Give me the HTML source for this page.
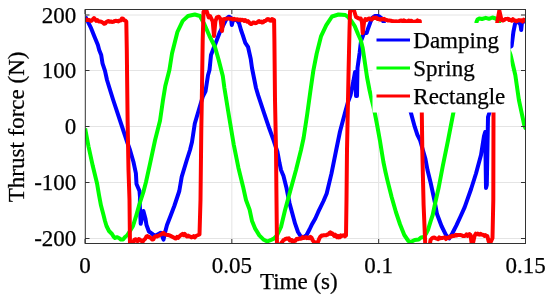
<!DOCTYPE html>
<html><head><meta charset="utf-8"><style>
html,body{margin:0;padding:0;background:#fff;}
svg{display:block;}
</style></head><body>
<svg width="550" height="299" viewBox="0 0 550 299">
<rect width="550" height="299" fill="#fff"/>
<g stroke="#e4e4e4" stroke-width="1"><line x1="85.0" y1="15.00" x2="525.5" y2="15.00"/><line x1="85.0" y1="70.50" x2="525.5" y2="70.50"/><line x1="85.0" y1="126.50" x2="525.5" y2="126.50"/><line x1="85.0" y1="182.50" x2="525.5" y2="182.50"/><line x1="85.0" y1="238.50" x2="525.5" y2="238.50"/><line x1="231.83" y1="9.5" x2="231.83" y2="243.5"/><line x1="378.67" y1="9.5" x2="378.67" y2="243.5"/></g><defs><clipPath id="ax"><rect x="85" y="9.5" width="440.5" height="234"/></clipPath></defs><g clip-path="url(#ax)"><polyline points="85.3,16.7 87.9,21.7 91.2,28.4 94.5,36.8 97.9,45.1 99.2,50 101.2,55 102.5,63.4 105,70.9 107,80 109.3,87.5 113.2,100 122,126.5 127.5,143 130,150 133.4,161.7 135.9,173.4 136.5,184 139.5,191 140,197 139.8,205 140.2,213 140.7,223.7 142,218 143.4,211 145.4,218.4 146.5,225 148.9,231.5 151.6,233.3 154.4,236 158,234.2 160.7,232.8 162.5,237 163.5,239.6 164.5,235 165.3,231.5 167,225 170.5,216 174.3,206 179.3,191 181.7,176.8 186.8,160 190,150 192,142 194.8,123.5 198.8,110 202.8,96.7 205.5,91.4 208,75.3 209.5,70 211,55 220,31.8 226.8,18.4 229,16.7 231,18 231.8,25 233,20 236.8,20 239,23 241,30 242.7,34.8 245.3,42.8 248,46.8 250.7,58.8 252,68 254,78 256,88 258.2,95.4 264,112.8 269.4,128.8 273.5,140 277.5,152 279.5,163 281,170 283.5,176 286.5,188 289.5,203 292.2,213 295.1,223.7 298,232 300.8,236.5 303.7,237.2 306.6,235 309.5,229.5 312.3,223.7 315.2,218.7 318.1,212.2 323.5,201 326.7,193.5 331.5,173.4 336.2,150 340,131.5 345,112.8 348,102 350.5,95.3 353.5,80.5 355,72 356,96 357,96 357.5,68 359.6,53.1 361,41 364,33 366.7,33 368,28.7 370,23.4 372,18 374.7,16 378.7,16 381.4,18 383.4,21.4 386,30 390,50 395,75 400,90 405,100 410.7,112 414.7,126.7 417.4,134.8 420,140 425.4,158.8 427.5,170 430.7,183 434.8,202 437,214 441.5,226 445.9,234.9 449.2,238.5 452.5,233 456.4,225.4 460.5,216.5 464.6,207.4 471.1,189 476,173.5 481,155 484,136 485.2,132 486,188 486.8,185 488,117 489.6,112 495,80 505,50 511.6,46 513.4,32 515,24 516.5,21.5 519.5,23 520.5,25 521.2,30 522,22 524,21.5 526,21" fill="none" stroke="#0000ff" stroke-width="4.0" stroke-linejoin="round" stroke-linecap="butt"/><polyline points="85.1,128.5 88.5,146.3 92.8,166.1 97,183.2 99,195 101,205.6 103.5,215 105,221 106.5,226 109,231 112,234 113.5,236.5 115,238 117,237.2 119,238 121,239.6 123,239.6 125,237 127,235.5 130,231 133,226 135.9,216.7 139.2,205 143.4,192 146,182 150.1,163.4 155.1,140 160,120.8 163,100 165.3,86 169.4,70 172,53.5 177.4,32 182.7,20.9 188,16 194.8,14.5 200,16 204.5,24.5 209.5,36 215,47 218.7,60 222.8,76 224.4,88 229,116.2 233.7,144.3 238.4,167.7 243,186.4 246,200 249.6,209.6 252,220.9 255.3,228.9 259.3,235.4 263.3,239.4 267.3,241.5 270.5,240.2 273.8,238.6 277,235.4 281,227 285,210.3 290.5,190 296,170 301,150 303.6,138 307.2,114.3 310.2,92.6 313.3,70.9 316.7,53.5 321.1,36.1 326.3,25.2 332,16.5 338.5,14.5 345.3,15 348,17 351.4,21 354.7,26 358,34 360.7,40 362.7,48 364.5,60 367,77 369.5,90 371.5,99 373.5,107 374.8,113 377.3,126 380,141 383.4,162 385.5,172 387.5,180.6 391.7,197.3 395.9,212 400.1,224.5 404.3,235 408.4,241 410.7,242 414.7,240 418.7,239.5 421,237.5 424,237 426,233.8 428.2,229.3 430.5,221.6 432.7,215 434.8,204.8 438.8,187 442.8,166 448.1,140 453.5,112 460,80 467,45 475.5,32 476.5,22 477.5,19.5 479.3,18.5 482,19 485.8,17.8 489,18.8 492.4,17.5 495.6,18.5 498,20 505,40 510.6,55 515.3,75 518.9,100 524.4,125.8 526,129" fill="none" stroke="#00ff00" stroke-width="4.0" stroke-linejoin="round" stroke-linecap="butt"/><polyline points="85,19.2 86,19.93 87,19.7 88.25,20.01 89.5,20 90.75,21.02 92,20.4 93,19.09 94,18 95.1,19.32 96.2,20.9 97.45,20.16 98.7,21.4 99.95,21.42 101.2,21.7 102.05,22.22 102.9,22.6 104.15,23.84 105.4,23.4 106.25,22.05 107.1,21.7 108.35,20.92 109.6,21.7 110.85,21.44 112.1,22 113.35,21.88 114.6,20.9 115.85,20.82 117.1,20.9 118.35,21.4 119.6,20.4 120.73,20.4 121.87,18.42 123,18.7 124.05,20.26 125.1,20.4 126.3,21.7 126.8,50 127.6,120 128.5,170 129.5,200 130,247 131.5,247 133,243 134.4,239.6 135.7,239.29 137,241 137.93,241.01 138.87,239.12 139.8,239.6 141.15,240.67 142.5,242 143.43,240.46 144.37,239.52 145.3,238.7 146.4,236.56 147.5,236 148.65,237.26 149.8,237 151.15,238.47 152.5,239.6 153.45,239.24 154.4,237 155.7,236.31 157,236.5 157.93,235.87 158.87,235.7 159.8,235 161.15,234.45 162.5,233.3 163.45,232.86 164.4,234.2 165.7,234.47 167,235 168.23,234.98 169.47,235.37 170.7,236 171.63,236.31 172.57,237 173.5,237.3 174.75,238.22 176,238.5 177.1,236.83 178.2,237.82 179.3,236.5 180.4,235.54 181.5,234.58 182.6,233.8 183.7,235.17 184.8,233.93 185.9,235.4 187,236.4 188.1,235.49 189.2,236.5 190.3,236.47 191.4,237.41 192.5,237.1 193.6,236.16 194.7,237.44 195.8,236 199.5,234.5 200.5,200 201.3,130 201.8,100 202.7,40 203.5,12 205,9.8 206.5,10.5 208.7,17.4 210,16 212.7,21.4 214,36 215.4,21.4 216.8,17.4 218.8,16.7 220.5,19 222,31 223.4,19.2 228.4,18.4 229.55,18.78 230.7,18.7 231.85,18.77 233,19.5 234,18.71 235,19.45 236,19.5 237.33,19.3 238.67,19.89 240,19.6 241,20.41 242,19.79 243,19.9 244,20.91 245,20 246,20.6 247,21.72 248,21.08 249,22.1 250,23.42 251,24.1 252,23.62 253,22.6 254,22.54 255,23.18 256,23.1 257.03,22.58 258.07,21.62 259.1,21.1 260.1,22.02 261.1,21.58 262.1,22.6 263.1,22.4 264.1,20.92 265.1,21.1 266.1,20.41 267.1,19.15 268.1,19.1 269.1,19.4 270.1,20.6 271.1,20.76 272.1,19.1 274.1,20.1 274.4,40 275,100 276,150 276.5,200 277,247 280.5,247 281,243.4 283.4,240.2 284.47,239.74 285.53,238.97 286.6,238.6 287.9,238.8 288.87,238.24 289.83,240.54 290.8,240.3 291.73,239.96 292.67,242.11 293.6,241.7 294.57,240.46 295.53,240.62 296.5,239 297.47,238.84 298.43,239.14 299.4,238.5 300.47,238.78 301.55,238.61 302.62,237.1 303.7,238 304.77,237.85 305.85,237.15 306.93,238.17 308,237.5 309.2,238.1 310.4,236.81 311.6,237.8 312.7,240.33 313.8,241.7 314.85,242.3 315.9,242.4 317,242.37 318.1,241.7 319.2,238.69 320.3,236.7 321.47,235.57 322.63,235.63 323.8,235.2 325,235.28 326.2,235.25 327.4,234.5 328.37,234.43 329.33,233.11 330.3,232.3 331.27,233.99 332.23,233.35 333.2,234.5 334.17,235.98 335.13,234.59 336.1,235.9 337.07,237.19 338.03,235.83 339,237.4 339.93,237.22 340.87,235.44 341.8,235.9 342.9,235.36 344,235.2 345,236.35 346,235.5 346.5,200 347,150 348.6,70 349.5,30 350,12 350.5,9.7 354,10.5 356,17 358.7,18.4 360.7,18.4 362,22.4 362.7,33 364,22.4 365.4,19 366.7,20 368.05,18.9 369.4,18.4 370.7,19.4 372.03,19.43 373.37,17.53 374.7,18 376.03,17.5 377.37,19.08 378.7,18.7 380.07,19.82 381.43,19 382.8,19.4 384.13,18.85 385.47,19.73 386.8,20 388.13,20.6 389.47,20.58 390.8,20.7 392.13,21 393.47,21.17 394.8,21.4 396.15,21.32 397.5,22 398.75,21.46 400,20.7 401.25,20.57 402.5,21.28 403.75,20.3 405,21.5 406.25,21.19 407.5,22.1 408.75,20.49 410,21 411.25,20.79 412.5,21.56 413.75,21.97 415,21.5 416.2,21.44 417.4,20.44 418.6,22.1 419.8,21 421.8,113 422.3,150 423.6,205 425.2,243 426,247 429.5,247 430.5,240 431.6,238.7 432.95,237.77 434.3,237.6 435.65,238.3 437,238.7 438.13,239.23 439.27,237.39 440.4,238.2 441.5,238.01 442.6,237.92 443.7,237.6 444.8,237.36 445.9,239.02 447,238.2 448.1,237.47 449.2,237.73 450.3,236.5 451.4,236.51 452.5,235.74 453.6,236 454.73,235.79 455.87,234.75 457,235.4 458.1,234.98 459.2,235.05 460.3,234.9 461.63,235.34 462.97,236.1 464.3,235.9 465.38,235.74 466.45,234.35 467.53,235.78 468.6,234.5 469.55,234.05 470.5,235 471.5,242.5 473,243 474.5,236 475.8,233.7 476.77,234.29 477.73,233.64 478.7,234.5 479.63,234.63 480.57,233.74 481.5,234.5 482.47,234.66 483.43,234.91 484.4,235.9 485.37,235.14 486.33,235.84 487.3,235.9 488.7,241.6 489.8,241.8 490.9,241.6 492.5,238 493.3,200 493.5,113 496,40 497.3,22 499.3,10.5 501.5,20 503,20.5 504.25,19.88 505.5,19 506.73,18.87 507.95,18.73 509.17,20.04 510.4,19.7 511.62,20.68 512.85,19.13 514.07,20.49 515.3,20.5 516.52,21.24 517.75,20.56 518.98,20.04 520.2,20.5 521.36,20.22 522.52,21.52 523.68,19.71 524.84,20.52 526,20.5" fill="none" stroke="#ff0000" stroke-width="4.0" stroke-linejoin="round" stroke-linecap="butt"/></g><g stroke="#333" stroke-width="1"><rect x="85.3" y="9.5" width="440.2" height="234.0" fill="none"/><line x1="85.0" y1="15.00" x2="89.5" y2="15.00"/><line x1="525.5" y1="15.00" x2="521.0" y2="15.00"/><line x1="85.0" y1="70.50" x2="89.5" y2="70.50"/><line x1="525.5" y1="70.50" x2="521.0" y2="70.50"/><line x1="85.0" y1="126.50" x2="89.5" y2="126.50"/><line x1="525.5" y1="126.50" x2="521.0" y2="126.50"/><line x1="85.0" y1="182.50" x2="89.5" y2="182.50"/><line x1="525.5" y1="182.50" x2="521.0" y2="182.50"/><line x1="85.0" y1="238.50" x2="89.5" y2="238.50"/><line x1="525.5" y1="238.50" x2="521.0" y2="238.50"/><line x1="85.00" y1="243.5" x2="85.00" y2="239.0"/><line x1="85.00" y1="9.5" x2="85.00" y2="14.0"/><line x1="231.83" y1="243.5" x2="231.83" y2="239.0"/><line x1="231.83" y1="9.5" x2="231.83" y2="14.0"/><line x1="378.67" y1="243.5" x2="378.67" y2="239.0"/><line x1="378.67" y1="9.5" x2="378.67" y2="14.0"/><line x1="525.50" y1="243.5" x2="525.50" y2="239.0"/><line x1="525.50" y1="9.5" x2="525.50" y2="14.0"/></g><g font-family="Liberation Serif, Times New Roman, serif" font-size="23" fill="#000" stroke="#000" stroke-width="0.25"><text x="76.3" y="22.70" text-anchor="end">200</text><text x="76.3" y="78.20" text-anchor="end">100</text><text x="76.3" y="134.20" text-anchor="end">0</text><text x="76.3" y="190.20" text-anchor="end">-100</text><text x="76.3" y="246.20" text-anchor="end">-200</text><text x="85.00" y="273.0" text-anchor="middle">0</text><text x="231.83" y="273.0" text-anchor="middle">0.05</text><text x="378.67" y="273.0" text-anchor="middle">0.1</text><text x="525.50" y="273.0" text-anchor="middle">0.15</text><text x="298.8" y="289" text-anchor="middle">Time (s)</text><text transform="translate(24,126.90) rotate(-90)" text-anchor="middle">Thrust force (N)</text></g><g><rect x="372.5" y="23" width="138" height="89.5" fill="#fff"/><line x1="376.5" y1="39.9" x2="410" y2="39.9" stroke="#0000ff" stroke-width="3"/><text x="413.3" y="48.4" font-family="Liberation Serif, Times New Roman, serif" font-size="23" stroke="#000" stroke-width="0.25">Damping</text><line x1="376.5" y1="67.9" x2="410" y2="67.9" stroke="#00ff00" stroke-width="3"/><text x="413.3" y="76.4" font-family="Liberation Serif, Times New Roman, serif" font-size="23" stroke="#000" stroke-width="0.25">Spring</text><line x1="376.5" y1="95.9" x2="410" y2="95.9" stroke="#ff0000" stroke-width="3"/><text x="413.3" y="104.4" font-family="Liberation Serif, Times New Roman, serif" font-size="23" stroke="#000" stroke-width="0.25">Rectangle</text></g>
</svg>
</body></html>
